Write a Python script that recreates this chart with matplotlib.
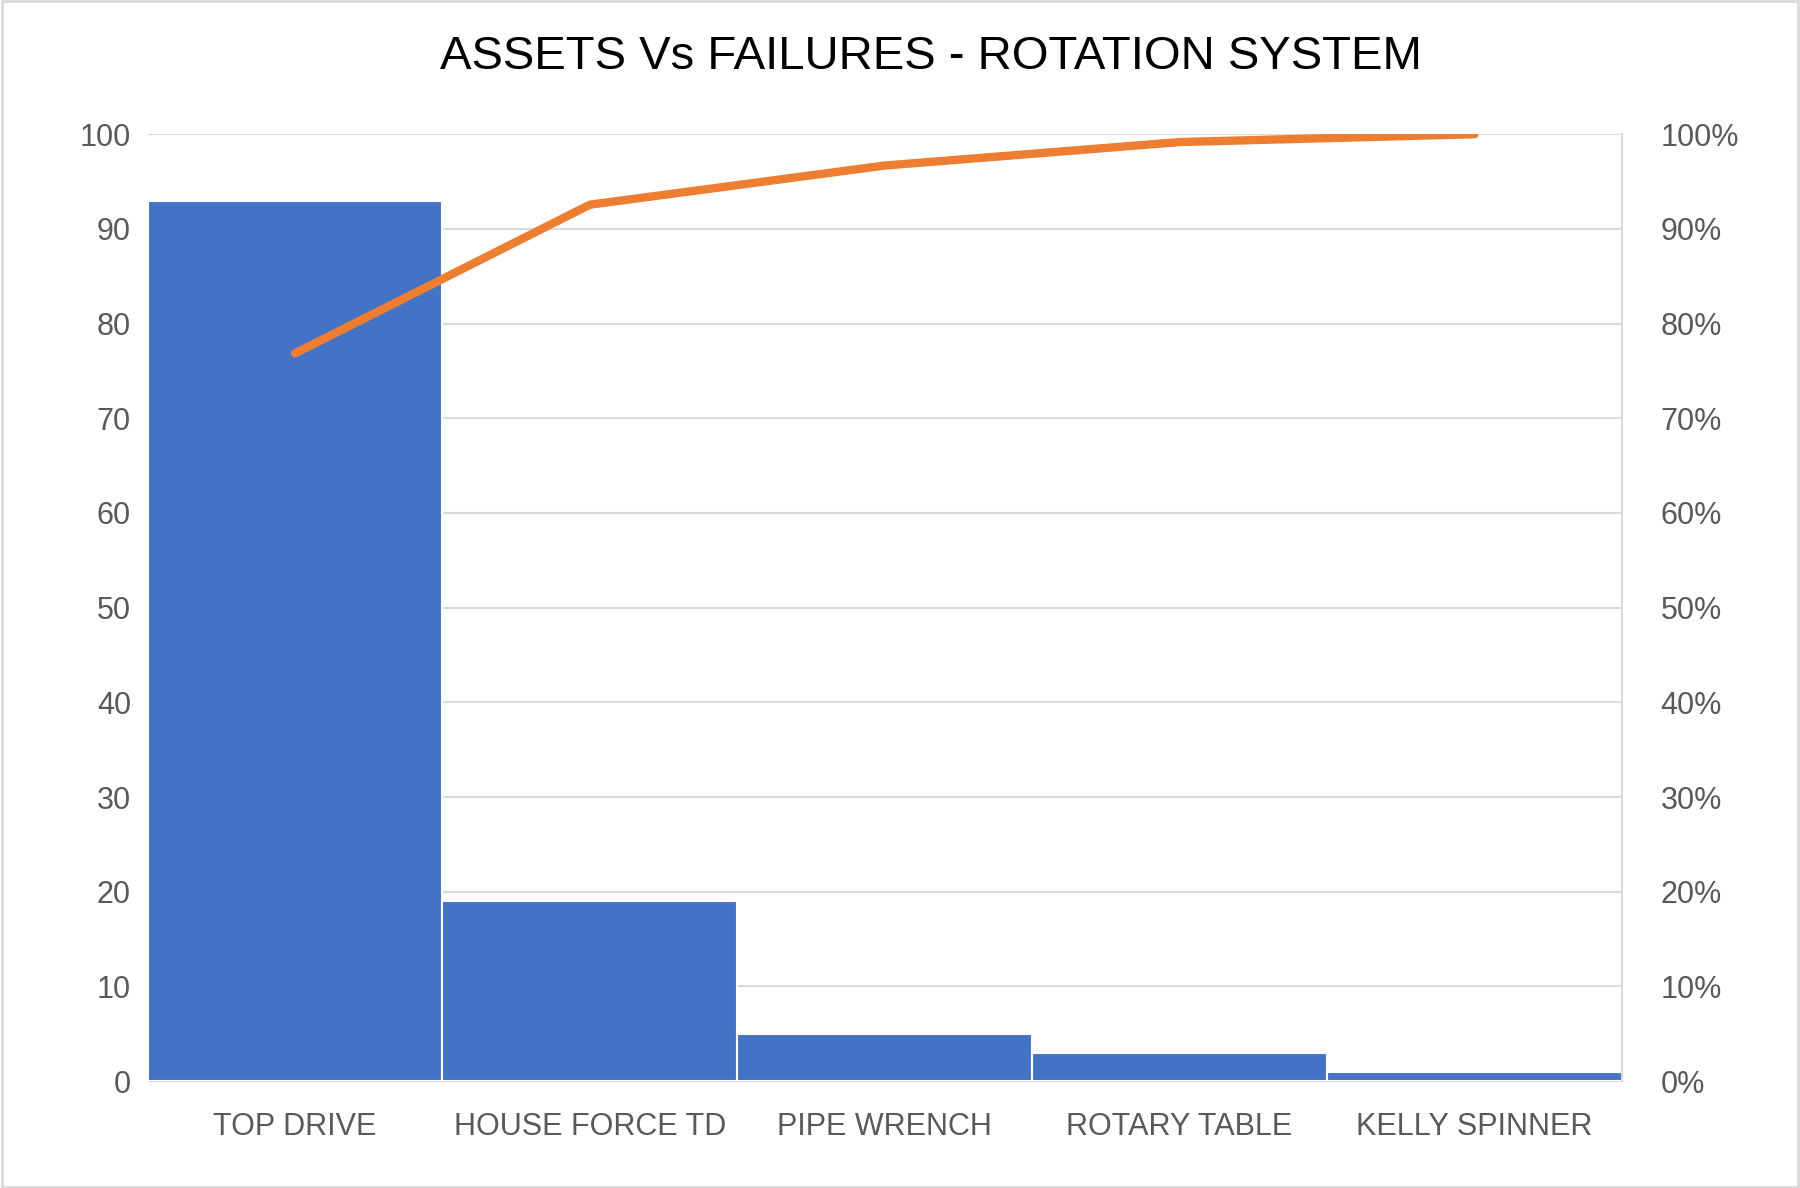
import matplotlib.pyplot as plt
import numpy as np

plt.rcParams['font.family'] = ['Liberation Sans', 'DejaVu Sans']

categories = ['TOP DRIVE', 'HOUSE FORCE TD', 'PIPE WRENCH', 'ROTARY TABLE', 'KELLY SPINNER']
failures = [93, 19, 5, 3, 1]
cum_pct = np.cumsum(failures) / sum(failures) * 100

fig = plt.figure(figsize=(18, 11.88), dpi=100)
ax = fig.add_axes([0.082, 0.090, 0.819, 0.797])
x = np.arange(len(categories))
ax.bar(x, failures, width=1.0, color='#4472C4', edgecolor='white', linewidth=1.5, zorder=2)
ax.set_xlim(-0.5, len(categories) - 0.5)
ax.set_ylim(0, 100)
ax.set_yticks(range(0, 101, 10))
ax.set_xticks(x)
ax.set_xticklabels(categories)
ax.grid(axis='y', color='#D9D9D9', lw=1.5, zorder=0)
for s in ['top', 'right', 'left']:
    ax.spines[s].set_visible(False)
ax.spines['bottom'].set_color('#D9D9D9')
ax.tick_params(length=0, labelsize=22, colors='#595959', pad=12)
ax.tick_params(axis='x', pad=22)

ax2 = ax.twinx()
ax2.plot(x, cum_pct, color='#ED7D31', lw=6, solid_capstyle='round', zorder=3)
ax2.set_ylim(0, 100)
ax2.set_yticks(range(0, 101, 10))
ax2.set_yticklabels([f'{v}%' for v in range(0, 101, 10)])
for s in ['top', 'left', 'bottom']:
    ax2.spines[s].set_visible(False)
ax2.spines['right'].set_color('#D9D9D9')
ax2.spines['right'].set_linewidth(1.5)
ax2.tick_params(length=0, labelsize=22, colors='#595959', pad=28)

fig.text(0.517, 0.952, 'ASSETS Vs FAILURES - ROTATION SYSTEM', ha='center', va='center',
         fontsize=34, color='black')
fig.patches.append(plt.Rectangle((0.001, 0.001), 0.998, 0.998, transform=fig.transFigure,
                                 fill=False, edgecolor='#D9D9D9', lw=2))
fig.savefig('out.png', dpi=100)
